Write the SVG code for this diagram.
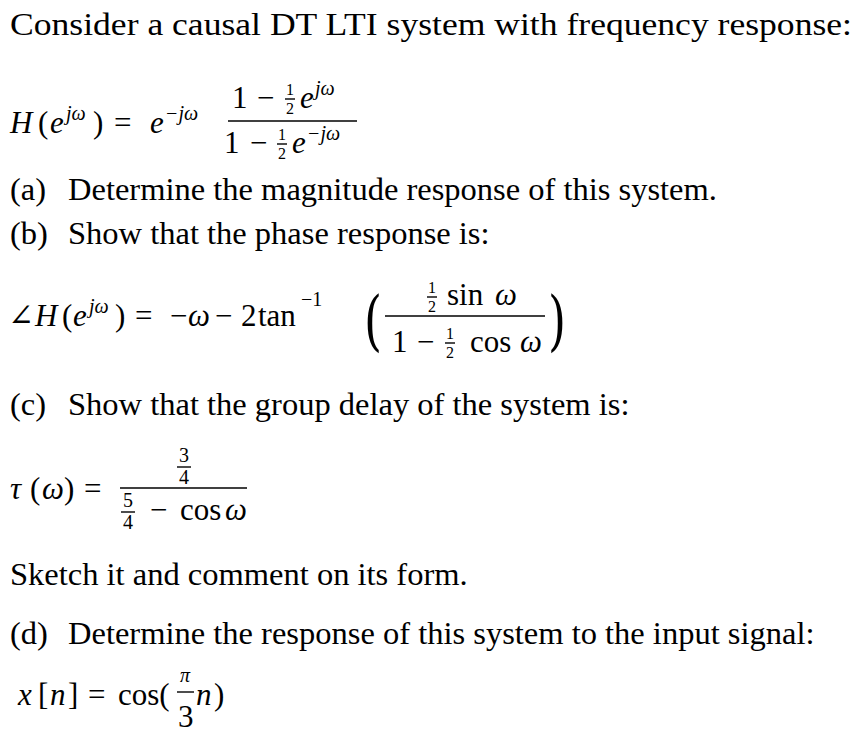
<svg xmlns="http://www.w3.org/2000/svg" width="867" height="749" viewBox="0 0 867 749">
<style>
text{font-family:"Liberation Serif","DejaVu Serif",serif;fill:#000}
.t{font-size:32.5px}
.m{font-size:31px}
.s{font-size:20px}
.xs{font-size:16px}
.i{font-style:italic}
line{stroke:#000;stroke-width:1.4}
</style>
<rect width="867" height="749" fill="#fff"/>
<text class="t" x="10" y="35" textLength="842" lengthAdjust="spacingAndGlyphs">Consider a causal DT LTI system with frequency response:</text>
<!-- H equation -->
<text class="m i" x="10" y="133">H</text><text class="m" x="38" y="133">(</text><text class="m i" x="50" y="133">e</text><text class="s i" x="66" y="120">jω</text><text class="m" x="93" y="133">)</text>
<text class="m" x="114" y="133">=</text><text class="m i" x="150" y="133">e</text><text class="s i" x="165" y="120">−jω</text>
<text class="m" x="232" y="108">1</text><text class="m" x="257" y="108">−</text>
<text class="xs" x="286" y="95">1</text><line x1="285" y1="99" x2="295" y2="99"/><text class="xs" x="286" y="114">2</text>
<text class="m i" x="300" y="108">e</text><text class="s i" x="315" y="95">jω</text>
<line x1="228" y1="121" x2="357" y2="121"/>
<text class="m" x="224" y="153">1</text><text class="m" x="250" y="153">−</text>
<text class="xs" x="278" y="140">1</text><line x1="277" y1="144" x2="287" y2="144"/><text class="xs" x="278" y="159">2</text>
<text class="m i" x="292" y="153">e</text><text class="s i" x="307" y="140">−jω</text>
<text class="t" x="10" y="200">(a)</text><text class="t" x="68" y="200">Determine the magnitude response of this system.</text>
<text class="t" x="10" y="244">(b)</text><text class="t" x="68" y="244">Show that the phase response is:</text>
<!-- phase -->
<text class="m" x="8" y="326">∠</text><text class="m i" x="35" y="326">H</text><text class="m" x="62" y="326">(</text><text class="m i" x="73" y="326">e</text><text class="s i" x="89" y="313">jω</text><text class="m" x="115" y="326">)</text>
<text class="m" x="135" y="326">=</text><text class="m" x="170" y="326">−</text><text class="m i" x="188" y="326">ω</text><text class="m" x="215" y="326">−</text><text class="m" x="241" y="326">2</text><text class="m" x="258" y="326">tan</text><text class="s" x="301" y="306">−1</text>
<text x="364" y="343" style="font-size:66px;font-family:'DejaVu Serif',serif" transform="translate(364 343) scale(0.7 1) translate(-364 -343)">(</text>
<text class="xs" x="428" y="293">1</text><line x1="427" y1="297" x2="437" y2="297"/><text class="xs" x="428" y="312">2</text>
<text class="m" x="447" y="305">sin</text><text class="m i" x="495" y="305">ω</text>
<line x1="385" y1="316" x2="545" y2="316"/>
<text class="m" x="392" y="352">1</text><text class="m" x="417" y="352">−</text>
<text class="xs" x="446" y="339">1</text><line x1="445" y1="343" x2="455" y2="343"/><text class="xs" x="446" y="358">2</text>
<text class="m" x="470" y="352">cos</text><text class="m i" x="520" y="352">ω</text>
<text x="548" y="343" style="font-size:66px;font-family:'DejaVu Serif',serif" transform="translate(548 343) scale(0.7 1) translate(-548 -343)">)</text>
<text class="t" x="10" y="415">(c)</text><text class="t" x="68" y="415">Show that the group delay of the system is:</text>
<!-- tau -->
<text class="m i" x="10" y="499">τ</text><text class="m" x="30" y="499">(</text><text class="m i" x="42" y="499">ω</text><text class="m" x="64" y="499">)</text><text class="m" x="84" y="499">=</text>
<text class="s" x="179" y="462">3</text><line x1="177" y1="467" x2="191" y2="467"/><text class="s" x="179" y="484">4</text>
<line x1="120" y1="488" x2="247" y2="488"/>
<text class="s" x="123" y="507">5</text><line x1="121" y1="512" x2="135" y2="512"/><text class="s" x="123" y="529">4</text>
<text class="m" x="150" y="520">−</text><text class="m" x="180" y="520">cos</text><text class="m i" x="225" y="520">ω</text>
<text class="t" x="10" y="585">Sketch it and comment on its form.</text>
<text class="t" x="10" y="644">(d)</text><text class="t" x="68" y="644">Determine the response of this system to the input signal:</text>
<!-- x[n] -->
<text class="m i" x="18" y="705">x</text><text class="m" x="38" y="705">[</text><text class="m i" x="50" y="705">n</text><text class="m" x="68" y="705">]</text><text class="m" x="88" y="705">=</text><text class="m" x="118" y="705">cos(</text>
<text class="s i" x="180" y="682">π</text>
<line x1="177" y1="692" x2="194" y2="692"/>
<text class="m" x="178" y="727">3</text>
<text class="m i" x="196" y="705">n</text><text class="m" x="214" y="705">)</text>
</svg>
